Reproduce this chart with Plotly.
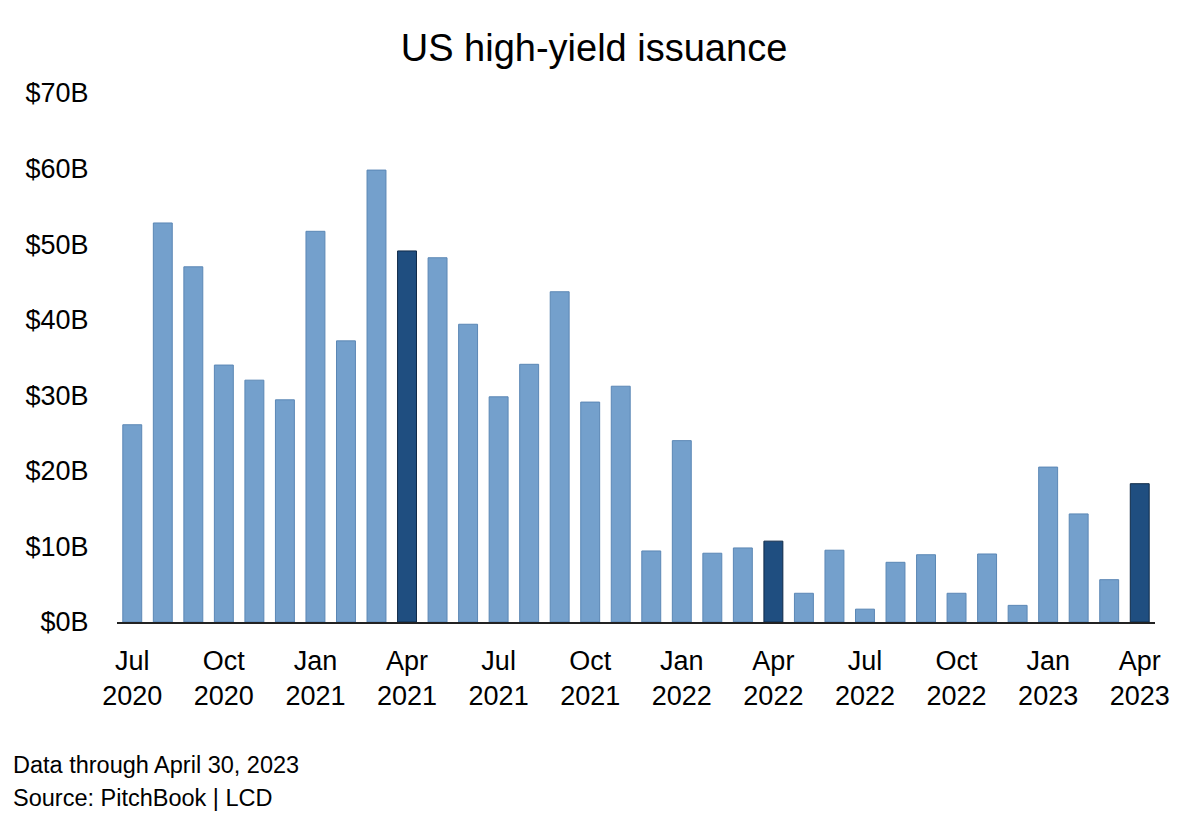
import plotly.graph_objects as go

months = ["Jul 2020","Aug 2020","Sep 2020","Oct 2020","Nov 2020","Dec 2020",
          "Jan 2021","Feb 2021","Mar 2021","Apr 2021","May 2021","Jun 2021",
          "Jul 2021","Aug 2021","Sep 2021","Oct 2021","Nov 2021","Dec 2021",
          "Jan 2022","Feb 2022","Mar 2022","Apr 2022","May 2022","Jun 2022",
          "Jul 2022","Aug 2022","Sep 2022","Oct 2022","Nov 2022","Dec 2022",
          "Jan 2023","Feb 2023","Mar 2023","Apr 2023"]
issuance_b = [26.1, 52.8, 47.0, 34.0, 32.0, 29.4,
              51.7, 37.2, 59.8, 49.1, 48.2, 39.4,
              29.8, 34.1, 43.7, 29.1, 31.2, 9.4,
              24.0, 9.1, 9.8, 10.7, 3.8, 9.5,
              1.7, 7.9, 8.9, 3.8, 9.0, 2.2,
              20.5, 14.3, 5.6, 18.3]
highlight = ["Apr 2021", "Apr 2022", "Apr 2023"]
tick_months = ["Jul 2020","Oct 2020","Jan 2021","Apr 2021","Jul 2021","Oct 2021",
               "Jan 2022","Apr 2022","Jul 2022","Oct 2022","Jan 2023","Apr 2023"]
tick_text = [m.replace(" ", "<br>") for m in tick_months]
y_ticks = [0, 10, 20, 30, 40, 50, 60, 70]
y_tick_text = [f"${v}B" for v in y_ticks]

LIGHT = "#74a0cc"
LIGHT_LINE = "#5b87b5"
DARK = "#1f4e80"
DARK_LINE = "#0f2a48"

colors = [DARK if m in highlight else LIGHT for m in months]
line_colors = [DARK_LINE if m in highlight else LIGHT_LINE for m in months]

FONT = "Liberation Sans Narrow, Arial Narrow, Liberation Sans, Arial, sans-serif"

fig = go.Figure(go.Bar(
    x=months, y=issuance_b,
    marker=dict(color=colors, line=dict(color=line_colors, width=1)),
    width=0.62,
))

L, R, T, B = 117, 45, 93, 195
W, H = 1200, 817
pw = W - L - R
ph = H - T - B

fig.update_layout(
    width=W, height=H,
    margin=dict(l=L, r=R, t=T, b=B),
    paper_bgcolor="white", plot_bgcolor="white",
    showlegend=False,
    font=dict(family=FONT, color="black", size=27),
    title=dict(text="US high-yield issuance", x=0.495, xanchor="center",
               y=1 - 48 / H, yanchor="middle",
               font=dict(family=FONT, size=38, color="black")),
    xaxis=dict(
        type="category", categoryorder="array", categoryarray=months,
        tickmode="array", tickvals=tick_months, ticktext=tick_text,
        showgrid=False, zeroline=False,
        showline=True, linecolor="#222222", linewidth=1.5,
        ticks="outside", ticklen=14, tickcolor="white",
        tickfont=dict(family=FONT, size=27, color="black"),
        range=[-0.5, len(months) - 0.5],
    ),
    yaxis=dict(
        range=[0, 70], tickmode="array", tickvals=y_ticks, ticktext=y_tick_text,
        showgrid=False, zeroline=False, showline=False,
        ticks="outside", ticklen=22, tickcolor="white",
        tickfont=dict(family=FONT, size=27, color="black"),
    ),
    annotations=[
        dict(text="Data through April 30, 2023", xref="paper", yref="paper",
             x=(11 - L) / pw, y=(H - B - 765) / ph, xanchor="left", yanchor="middle",
             showarrow=False, font=dict(family=FONT, size=23.5, color="black")),
        dict(text="Source: PitchBook | LCD", xref="paper", yref="paper",
             x=(11 - L) / pw, y=(H - B - 798) / ph, xanchor="left", yanchor="middle",
             showarrow=False, font=dict(family=FONT, size=23.5, color="black")),
    ],
)

fig.write_html("out.html")
